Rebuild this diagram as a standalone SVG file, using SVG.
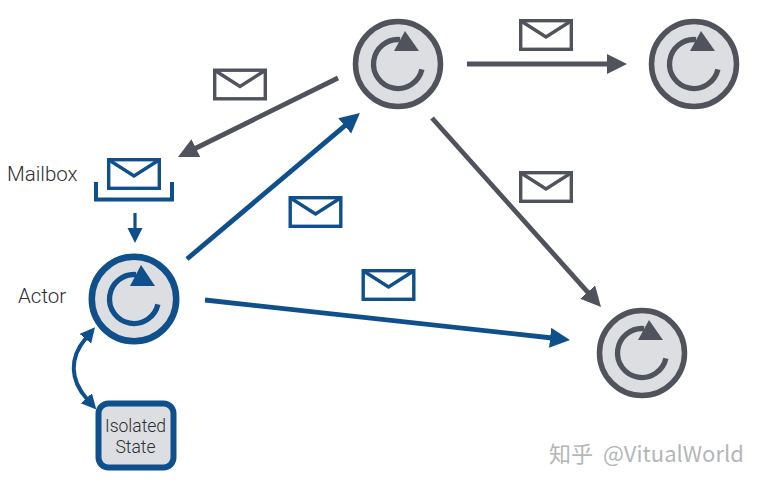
<svg xmlns="http://www.w3.org/2000/svg" width="762" height="486" viewBox="0 0 762 486">
<style>
text{font-family:Roboto,"Liberation Sans",Arial,sans-serif;fill:#2c2e32;font-weight:300}
.lbl{font-size:20.500px}
.st{font-size:17.500px;text-anchor:middle}
.wm{font-family:"Noto Sans CJK SC","Liberation Sans",sans-serif;font-size:22px;fill:#b4b6b8;font-weight:400}
.c{fill:none;stroke-width:4.800}
.g{stroke:#50535c}
.b{stroke:#0f4f8b}
.disc{fill:#dcdee1;stroke-width:5.500}
.db{stroke-width:6.500}
.arc{fill:none;stroke-width:5.300}
.gt{fill:#50535c}
.bt{fill:#0f4f8b}
.env{fill:#fff;stroke-width:3.400}
</style>
<defs>
<marker id="hg" markerUnits="userSpaceOnUse" markerWidth="22" markerHeight="22" refX="2" refY="10" orient="auto"><path d="M0 0L20 10L0 20Z" fill="#50535c"/></marker>
<marker id="hb" markerUnits="userSpaceOnUse" markerWidth="22" markerHeight="22" refX="2" refY="10" orient="auto"><path d="M0 0L20 10L0 20Z" fill="#0f4f8b"/></marker>
<marker id="hs" markerUnits="userSpaceOnUse" markerWidth="17" markerHeight="16" refX="1" refY="7.500" orient="auto-start-reverse"><path d="M0 0L15 7.500L0 15Z" fill="#0f4f8b"/></marker>
<g id="envG"><rect x="1.700" y="1.700" width="50.600" height="28.600" class="env g"/><path d="M2 2L27 18L52 2" class="env g" style="fill:none"/></g>
<g id="envB"><rect x="1.700" y="1.700" width="50.600" height="28.600" class="env b"/><path d="M2 2L27 18L52 2" class="env b" style="fill:none"/></g>
<g id="actG"><circle r="42.500" class="disc g"/><path d="M23.900 5.400A24.500 24.500 0 1 1 2 -24.420" class="arc g"/><path d="M7 -33L21 -13L-4 -13Z" class="gt"/></g>
<g id="actB"><circle r="42.200" class="disc db b"/><path d="M23.900 5.400A24.500 24.500 0 1 1 2 -24.420" class="arc b"/><path d="M7 -34L21 -13L-4 -13Z" class="bt"/></g>
</defs>
<rect width="762" height="486" fill="#fff"/>
<g id="connectors">
<line x1="338" y1="78" x2="194.100" y2="149" class="c g" marker-end="url(#hg)"/>
<line x1="187" y1="259" x2="346.200" y2="124.600" class="c b" marker-end="url(#hb)"/>
<line x1="205" y1="300" x2="552.100" y2="338" class="c b" marker-end="url(#hb)"/>
<line x1="467" y1="64" x2="609" y2="64" class="c g" marker-end="url(#hg)"/>
<line x1="432" y1="118" x2="589" y2="293.600" class="c g" marker-end="url(#hg)"/>
<line x1="135" y1="213" x2="135" y2="229" class="b" style="fill:none;stroke-width:3.200" marker-end="url(#hs)"/>
<path d="M86 338C69 358 70 380 87 399" class="b" style="fill:none;stroke-width:4" marker-start="url(#hs)" marker-end="url(#hs)"/>
</g>
<g id="msg1"><use href="#envG" x="213" y="68.500"/></g>
<g id="msg2"><use href="#envG" x="519" y="19"/></g>
<g id="msg3"><use href="#envG" x="519" y="171"/></g>
<g id="msg4"><use href="#envB" x="288.500" y="196"/></g>
<g id="msg5"><use href="#envB" x="361.500" y="269"/></g>
<g id="mailbox">
<use href="#envB" x="107" y="158"/>
<path d="M96 182V199.500H172V182" class="b" style="fill:none;stroke-width:4"/>
<text x="7" y="181" class="lbl">Mailbox</text>
</g>
<g id="actor"><use href="#actB" x="134" y="299"/><text x="18" y="303" class="lbl">Actor</text></g>
<g id="actor2"><use href="#actG" x="398" y="64"/></g>
<g id="actor3"><use href="#actG" x="694" y="64"/></g>
<g id="actor4"><use href="#actG" x="642" y="353"/></g>
<g id="state">
<rect x="98.500" y="403.500" width="75" height="64" rx="10" fill="#dcdee1" stroke="#0f4f8b" stroke-width="6"/>
<text x="135.500" y="432" class="st">Isolated</text>
<text x="135.500" y="453" class="st">State</text>
</g>
<text x="549" y="462" class="wm">知乎<tspan x="603">@VitualWorld</tspan></text>
</svg>
